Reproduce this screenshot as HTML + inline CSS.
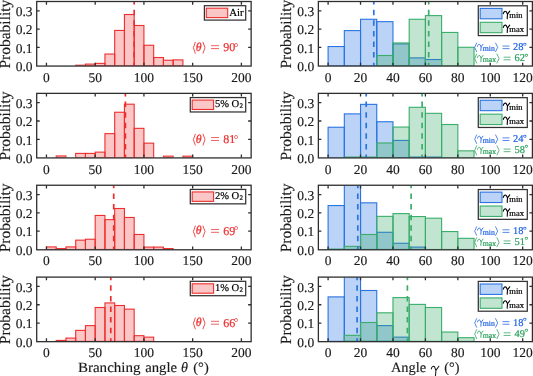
<!DOCTYPE html><html><head><meta charset="utf-8"><style>html,body{margin:0;padding:0;background:#fff;}svg{display:block;will-change:transform;}text{font-family:"Liberation Serif",serif;text-rendering:geometricPrecision;stroke-width:0.2px;}text:not([fill]){fill:#1a1a1a;stroke:#1a1a1a;stroke-width:0.15px;}</style></head><body>
<svg width="533" height="376" viewBox="0 0 533 376">
<rect width="533" height="376" fill="#fff"/>
<defs><clipPath id="cl0"><rect x="36.7" y="1.7" width="214.44" height="64.05"/></clipPath><clipPath id="cr0"><rect x="318.37" y="1.7" width="214.06" height="64.05"/></clipPath></defs>
<g clip-path="url(#cl0)">
<g fill="rgba(238,46,46,0.27)" stroke="#ee2e2e" stroke-width="1.1"><rect x="75.69" y="65.2" width="9.75" height="0.55"/><rect x="85.44" y="64.1" width="9.75" height="1.65"/><rect x="95.19" y="63.37" width="9.75" height="2.38"/><rect x="104.94" y="54.04" width="9.75" height="11.71"/><rect x="114.68" y="30.43" width="9.75" height="35.32"/><rect x="124.43" y="14.51" width="9.75" height="51.24"/><rect x="134.18" y="25.49" width="9.75" height="40.26"/><rect x="143.93" y="45.25" width="9.75" height="20.5"/><rect x="153.67" y="57.52" width="9.75" height="8.23"/><rect x="163.42" y="60.26" width="9.75" height="5.49"/><rect x="173.17" y="59.89" width="9.75" height="5.86"/></g>
<line x1="134.18" y1="1.7" x2="134.18" y2="65.75" stroke="#ee2e2e" stroke-width="1.7" stroke-dasharray="5.5 5.1" stroke-dashoffset="2.6"/>
</g>
<path d="M46.45 65.75v-3.0M46.45 1.7v3.0M95.19 65.75v-3.0M95.19 1.7v3.0M143.93 65.75v-3.0M143.93 1.7v3.0M192.66 65.75v-3.0M192.66 1.7v3.0M241.4 65.75v-3.0M241.4 1.7v3.0M36.7 47.45h3.0M251.15 47.45h-3.0M36.7 29.15h3.0M251.15 29.15h-3.0M36.7 10.85h3.0M251.15 10.85h-3.0" stroke="#2e2e2e" stroke-width="1.3" fill="none"/><rect x="36.7" y="1.5" width="214.44" height="64.55" fill="none" stroke="#2e2e2e" stroke-width="1.3"/><g font-size="13.5" text-anchor="middle"><text x="46.45" y="81.65">0</text><text x="95.19" y="81.65">50</text><text x="143.93" y="81.65">100</text><text x="192.66" y="81.65">150</text><text x="241.4" y="81.65">200</text></g><g font-size="13.5" text-anchor="end"><text x="32.5" y="71.05">0.0</text><text x="32.5" y="52.75">0.1</text><text x="32.5" y="34.45">0.2</text><text x="32.5" y="16.15">0.3</text></g>
<text transform="translate(9.9 34.12) rotate(-90)" font-size="15.5" text-anchor="middle">Probability</text>
<rect x="204.4" y="5.7" width="41.3" height="14.4" fill="#fff" stroke="#333" stroke-width="1.25"/>
<rect x="206.3" y="8.2" width="21.4" height="9.4" fill="rgba(238,46,46,0.27)" stroke="#ee2e2e" stroke-width="1.1"/>
<text x="229.3" y="15.9" font-size="10.8" fill="#000" stroke="#000" stroke-width="0.1">Air</text>
<path d="M195.4 41.9L193.4 47.75L195.4 53.6M202.9 41.9L205 47.75L202.9 53.6" stroke="#ee2e2e" stroke-width="0.85" fill="none"/>
<path d="M211 45.7H219M211 48.6H219" stroke="#ee2e2e" stroke-width="0.75" fill="none"/>
<text x="198.6" y="50.7" font-size="12" fill="#ee2e2e" stroke="#ee2e2e" font-style="italic" text-anchor="middle">θ</text>
<text x="223.3" y="50.9" font-size="12" fill="#ee2e2e" stroke="#ee2e2e" stroke-width="0.1">90</text>
<text x="233.7" y="50.7" font-size="11.5" fill="#ee2e2e">°</text>
<g clip-path="url(#cr0)">
<g fill="rgba(30,110,225,0.3)" stroke="#2a74e0" stroke-width="1.1"><rect x="328.1" y="46.53" width="16.22" height="19.22"/><rect x="344.32" y="30.61" width="16.22" height="35.14"/><rect x="360.53" y="19.27" width="16.22" height="46.48"/><rect x="376.75" y="21.65" width="16.22" height="44.1"/><rect x="392.97" y="43.88" width="16.22" height="21.87"/><rect x="409.19" y="57.88" width="16.22" height="7.87"/><rect x="425.4" y="59.53" width="16.22" height="6.22"/></g>
<g fill="rgba(50,170,100,0.3)" stroke="#3aad6a" stroke-width="1.1"><rect x="376.75" y="55.5" width="16.22" height="10.25"/><rect x="392.97" y="42.97" width="16.22" height="22.78"/><rect x="409.19" y="19.27" width="16.22" height="46.48"/><rect x="425.4" y="15.61" width="16.22" height="50.14"/><rect x="441.62" y="32.44" width="16.22" height="33.31"/><rect x="457.84" y="47.27" width="16.22" height="18.48"/></g>
<line x1="373.8" y1="1.7" x2="373.8" y2="65.75" stroke="#2a74e0" stroke-width="1.7" stroke-dasharray="5.5 5.1" stroke-dashoffset="2.6"/>
<line x1="428.7" y1="1.7" x2="428.7" y2="65.75" stroke="#3aad6a" stroke-width="1.7" stroke-dasharray="5.5 5.1" stroke-dashoffset="2.6"/>
</g>
<path d="M328.1 65.75v-3.0M328.1 1.7v3.0M360.53 65.75v-3.0M360.53 1.7v3.0M392.97 65.75v-3.0M392.97 1.7v3.0M425.4 65.75v-3.0M425.4 1.7v3.0M457.84 65.75v-3.0M457.84 1.7v3.0M490.27 65.75v-3.0M490.27 1.7v3.0M522.7 65.75v-3.0M522.7 1.7v3.0M318.37 47.45h3.0M532.43 47.45h-3.0M318.37 29.15h3.0M532.43 29.15h-3.0M318.37 10.85h3.0M532.43 10.85h-3.0" stroke="#2e2e2e" stroke-width="1.3" fill="none"/><rect x="318.37" y="1.5" width="214.06" height="64.55" fill="none" stroke="#2e2e2e" stroke-width="1.3"/><g font-size="13.5" text-anchor="middle"><text x="328.1" y="81.65">0</text><text x="360.53" y="81.65">20</text><text x="392.97" y="81.65">40</text><text x="425.4" y="81.65">60</text><text x="457.84" y="81.65">80</text><text x="490.27" y="81.65">100</text><text x="522.7" y="81.65">120</text></g><g font-size="13.5" text-anchor="end"><text x="314.17" y="71.05">0.0</text><text x="314.17" y="52.75">0.1</text><text x="314.17" y="34.45">0.2</text><text x="314.17" y="16.15">0.3</text></g>
<text transform="translate(290.7 34.12) rotate(-90)" font-size="15.5" text-anchor="middle">Probability</text>
<rect x="478.3" y="5.8" width="49" height="29.8" fill="#fff" stroke="#333" stroke-width="1.25"/>
<rect x="480.2" y="8.4" width="21.8" height="10.4" fill="rgba(30,110,225,0.3)" stroke="#2a74e0" stroke-width="1.1"/>
<rect x="480.2" y="22.3" width="21.8" height="10.4" fill="rgba(50,170,100,0.3)" stroke="#3aad6a" stroke-width="1.1"/>
<path d="M503.3 13.6C503.7 11.3 505.5 10.8 506.3 11.8L507.5 14.2M509.7 11.2L507.5 14.2L507.2 18.6" stroke="#000" stroke-width="1.1" fill="none" stroke-linecap="round" stroke-linejoin="round"/>
<path d="M503.3 27.5C503.7 25.2 505.5 24.7 506.3 25.7L507.5 28.1M509.7 25.1L507.5 28.1L507.2 32.5" stroke="#000" stroke-width="1.1" fill="none" stroke-linecap="round" stroke-linejoin="round"/>
<text x="509.3" y="18" font-size="8.5" fill="#000" stroke="#000">min</text>
<text x="509.3" y="32" font-size="8.5" fill="#000" stroke="#000">max</text>
<path d="M476.8 42.7L474.7 47.35L476.8 52M495.4 42.7L497.7 47.35L495.4 52" stroke="#1e62e2" stroke-width="0.75" fill="none"/>
<path d="M502.5 46.05H509.5M502.5 48.65H509.5" stroke="#1e62e2" stroke-width="0.75" fill="none"/>
<path d="M477.5 46.31C477.84 44.34 479.39 43.91 480.08 44.77L481.11 46.83M483 44.25L481.11 46.83L480.85 50.61" stroke="#1e62e2" stroke-width="0.85" fill="none" stroke-linecap="round" stroke-linejoin="round"/>
<text x="482.7" y="50.85" font-size="7.8" fill="#1e62e2" stroke="#1e62e2">min</text>
<text x="513.1" y="50.4" font-size="10.4" fill="#1e62e2" stroke="#1e62e2">28</text>
<text x="522.9" y="48.8" font-size="9.2" fill="#1e62e2" stroke="#1e62e2">°</text>
<path d="M476.8 53.6L474.7 58.5L476.8 63.4M496.8 53.6L499.1 58.5L496.8 63.4" stroke="#28a05a" stroke-width="0.75" fill="none"/>
<path d="M503.6 57.2H510.6M503.6 59.8H510.6" stroke="#28a05a" stroke-width="0.75" fill="none"/>
<path d="M477.5 57.46C477.84 55.49 479.39 55.06 480.08 55.92L481.11 57.98M483 55.4L481.11 57.98L480.85 61.76" stroke="#28a05a" stroke-width="0.85" fill="none" stroke-linecap="round" stroke-linejoin="round"/>
<text x="482.7" y="62" font-size="7.8" fill="#28a05a" stroke="#28a05a">max</text>
<text x="514.6" y="61.1" font-size="10.4" fill="#28a05a" stroke="#28a05a">62</text>
<text x="524.4" y="59.5" font-size="9.2" fill="#28a05a" stroke="#28a05a">°</text>
<defs><clipPath id="cl1"><rect x="36.7" y="93.57" width="214.44" height="64.05"/></clipPath><clipPath id="cr1"><rect x="318.37" y="93.57" width="214.06" height="64.05"/></clipPath></defs>
<g clip-path="url(#cl1)">
<g fill="rgba(238,46,46,0.27)" stroke="#ee2e2e" stroke-width="1.1"><rect x="56.2" y="155.97" width="9.75" height="1.65"/><rect x="75.69" y="153.41" width="9.75" height="4.21"/><rect x="85.44" y="153.41" width="9.75" height="4.21"/><rect x="95.19" y="152.13" width="9.75" height="5.49"/><rect x="104.94" y="133.65" width="9.75" height="23.97"/><rect x="114.68" y="112.24" width="9.75" height="45.38"/><rect x="124.43" y="104.18" width="9.75" height="53.44"/><rect x="134.18" y="128.34" width="9.75" height="29.28"/><rect x="143.93" y="143.16" width="9.75" height="14.46"/><rect x="163.42" y="156.16" width="9.75" height="1.46"/><rect x="182.92" y="156.16" width="9.75" height="1.46"/></g>
<line x1="125.4" y1="93.57" x2="125.4" y2="157.62" stroke="#ee2e2e" stroke-width="1.7" stroke-dasharray="5.5 5.1" stroke-dashoffset="2.6"/>
</g>
<path d="M46.45 157.62v-3.0M46.45 93.57v3.0M95.19 157.62v-3.0M95.19 93.57v3.0M143.93 157.62v-3.0M143.93 93.57v3.0M192.66 157.62v-3.0M192.66 93.57v3.0M241.4 157.62v-3.0M241.4 93.57v3.0M36.7 139.32h3.0M251.15 139.32h-3.0M36.7 121.02h3.0M251.15 121.02h-3.0M36.7 102.72h3.0M251.15 102.72h-3.0" stroke="#2e2e2e" stroke-width="1.3" fill="none"/><rect x="36.7" y="93.37" width="214.44" height="64.55" fill="none" stroke="#2e2e2e" stroke-width="1.3"/><g font-size="13.5" text-anchor="middle"><text x="46.45" y="173.52">0</text><text x="95.19" y="173.52">50</text><text x="143.93" y="173.52">100</text><text x="192.66" y="173.52">150</text><text x="241.4" y="173.52">200</text></g><g font-size="13.5" text-anchor="end"><text x="32.5" y="162.92">0.0</text><text x="32.5" y="144.62">0.1</text><text x="32.5" y="126.32">0.2</text><text x="32.5" y="108.02">0.3</text></g>
<text transform="translate(9.9 126) rotate(-90)" font-size="15.5" text-anchor="middle">Probability</text>
<rect x="190.3" y="97.57" width="55.4" height="14.4" fill="#fff" stroke="#333" stroke-width="1.25"/>
<rect x="192.2" y="100.07" width="21.4" height="9.4" fill="rgba(238,46,46,0.27)" stroke="#ee2e2e" stroke-width="1.1"/>
<text x="215" y="107.17" font-size="10.5" fill="#000" stroke="#000" stroke-width="0.15">5%</text>
<text x="231.6" y="107.17" font-size="10.6" fill="#000" stroke="#000" stroke-width="0.15">O</text>
<text x="239.5" y="108.47" font-size="7" fill="#000" stroke="#000" stroke-width="0.15">2</text>
<path d="M195.4 133.77L193.4 139.62L195.4 145.47M202.9 133.77L205 139.62L202.9 145.47" stroke="#ee2e2e" stroke-width="0.85" fill="none"/>
<path d="M211 137.57H219M211 140.47H219" stroke="#ee2e2e" stroke-width="0.75" fill="none"/>
<text x="198.6" y="142.57" font-size="12" fill="#ee2e2e" stroke="#ee2e2e" font-style="italic" text-anchor="middle">θ</text>
<text x="223.3" y="142.77" font-size="12" fill="#ee2e2e" stroke="#ee2e2e" stroke-width="0.1">81</text>
<text x="233.7" y="142.57" font-size="11.5" fill="#ee2e2e">°</text>
<g clip-path="url(#cr1)">
<g fill="rgba(30,110,225,0.3)" stroke="#2a74e0" stroke-width="1.1"><rect x="328.1" y="127.24" width="16.22" height="30.38"/><rect x="344.32" y="113.88" width="16.22" height="43.74"/><rect x="360.53" y="104.37" width="16.22" height="53.25"/><rect x="376.75" y="121.75" width="16.22" height="35.87"/><rect x="392.97" y="140.42" width="16.22" height="17.2"/><rect x="409.19" y="157.07" width="16.22" height="0.55"/><rect x="425.4" y="157.07" width="16.22" height="0.55"/></g>
<g fill="rgba(50,170,100,0.3)" stroke="#3aad6a" stroke-width="1.1"><rect x="344.32" y="157.07" width="16.22" height="0.55"/><rect x="360.53" y="157.07" width="16.22" height="0.55"/><rect x="376.75" y="142.98" width="16.22" height="14.64"/><rect x="392.97" y="127.06" width="16.22" height="30.56"/><rect x="409.19" y="107.3" width="16.22" height="50.33"/><rect x="425.4" y="113.33" width="16.22" height="44.29"/><rect x="441.62" y="124.5" width="16.22" height="33.12"/><rect x="457.84" y="150.85" width="16.22" height="6.77"/></g>
<line x1="366.2" y1="93.57" x2="366.2" y2="157.62" stroke="#2a74e0" stroke-width="1.7" stroke-dasharray="5.5 5.1" stroke-dashoffset="2.6"/>
<line x1="422.1" y1="93.57" x2="422.1" y2="157.62" stroke="#3aad6a" stroke-width="1.7" stroke-dasharray="5.5 5.1" stroke-dashoffset="2.6"/>
</g>
<path d="M328.1 157.62v-3.0M328.1 93.57v3.0M360.53 157.62v-3.0M360.53 93.57v3.0M392.97 157.62v-3.0M392.97 93.57v3.0M425.4 157.62v-3.0M425.4 93.57v3.0M457.84 157.62v-3.0M457.84 93.57v3.0M490.27 157.62v-3.0M490.27 93.57v3.0M522.7 157.62v-3.0M522.7 93.57v3.0M318.37 139.32h3.0M532.43 139.32h-3.0M318.37 121.02h3.0M532.43 121.02h-3.0M318.37 102.72h3.0M532.43 102.72h-3.0" stroke="#2e2e2e" stroke-width="1.3" fill="none"/><rect x="318.37" y="93.37" width="214.06" height="64.55" fill="none" stroke="#2e2e2e" stroke-width="1.3"/><g font-size="13.5" text-anchor="middle"><text x="328.1" y="173.52">0</text><text x="360.53" y="173.52">20</text><text x="392.97" y="173.52">40</text><text x="425.4" y="173.52">60</text><text x="457.84" y="173.52">80</text><text x="490.27" y="173.52">100</text><text x="522.7" y="173.52">120</text></g><g font-size="13.5" text-anchor="end"><text x="314.17" y="162.92">0.0</text><text x="314.17" y="144.62">0.1</text><text x="314.17" y="126.32">0.2</text><text x="314.17" y="108.02">0.3</text></g>
<text transform="translate(290.7 126) rotate(-90)" font-size="15.5" text-anchor="middle">Probability</text>
<rect x="478.3" y="97.67" width="49" height="29.8" fill="#fff" stroke="#333" stroke-width="1.25"/>
<rect x="480.2" y="100.27" width="21.8" height="10.4" fill="rgba(30,110,225,0.3)" stroke="#2a74e0" stroke-width="1.1"/>
<rect x="480.2" y="114.17" width="21.8" height="10.4" fill="rgba(50,170,100,0.3)" stroke="#3aad6a" stroke-width="1.1"/>
<path d="M503.3 105.47C503.7 103.17 505.5 102.67 506.3 103.67L507.5 106.07M509.7 103.07L507.5 106.07L507.2 110.47" stroke="#000" stroke-width="1.1" fill="none" stroke-linecap="round" stroke-linejoin="round"/>
<path d="M503.3 119.37C503.7 117.07 505.5 116.57 506.3 117.57L507.5 119.97M509.7 116.97L507.5 119.97L507.2 124.37" stroke="#000" stroke-width="1.1" fill="none" stroke-linecap="round" stroke-linejoin="round"/>
<text x="509.3" y="109.87" font-size="8.5" fill="#000" stroke="#000">min</text>
<text x="509.3" y="123.87" font-size="8.5" fill="#000" stroke="#000">max</text>
<path d="M476.8 134.57L474.7 139.22L476.8 143.87M495.4 134.57L497.7 139.22L495.4 143.87" stroke="#1e62e2" stroke-width="0.75" fill="none"/>
<path d="M502.5 137.92H509.5M502.5 140.52H509.5" stroke="#1e62e2" stroke-width="0.75" fill="none"/>
<path d="M477.5 138.18C477.84 136.21 479.39 135.78 480.08 136.64L481.11 138.7M483 136.12L481.11 138.7L480.85 142.48" stroke="#1e62e2" stroke-width="0.85" fill="none" stroke-linecap="round" stroke-linejoin="round"/>
<text x="482.7" y="142.72" font-size="7.8" fill="#1e62e2" stroke="#1e62e2">min</text>
<text x="513.1" y="142.27" font-size="10.4" fill="#1e62e2" stroke="#1e62e2">24</text>
<text x="522.9" y="140.67" font-size="9.2" fill="#1e62e2" stroke="#1e62e2">°</text>
<path d="M476.8 145.47L474.7 150.37L476.8 155.27M496.8 145.47L499.1 150.37L496.8 155.27" stroke="#28a05a" stroke-width="0.75" fill="none"/>
<path d="M503.6 149.07H510.6M503.6 151.67H510.6" stroke="#28a05a" stroke-width="0.75" fill="none"/>
<path d="M477.5 149.33C477.84 147.36 479.39 146.93 480.08 147.79L481.11 149.85M483 147.27L481.11 149.85L480.85 153.63" stroke="#28a05a" stroke-width="0.85" fill="none" stroke-linecap="round" stroke-linejoin="round"/>
<text x="482.7" y="153.87" font-size="7.8" fill="#28a05a" stroke="#28a05a">max</text>
<text x="514.6" y="152.97" font-size="10.4" fill="#28a05a" stroke="#28a05a">58</text>
<text x="524.4" y="151.37" font-size="9.2" fill="#28a05a" stroke="#28a05a">°</text>
<defs><clipPath id="cl2"><rect x="36.7" y="185.44" width="214.44" height="64.05"/></clipPath><clipPath id="cr2"><rect x="318.37" y="185.44" width="214.06" height="64.05"/></clipPath></defs>
<g clip-path="url(#cl2)">
<g fill="rgba(238,46,46,0.27)" stroke="#ee2e2e" stroke-width="1.1"><rect x="46.45" y="246.93" width="9.75" height="2.56"/><rect x="56.2" y="248.58" width="9.75" height="0.91"/><rect x="65.95" y="246.93" width="9.75" height="2.56"/><rect x="75.69" y="240.16" width="9.75" height="9.33"/><rect x="85.44" y="239.24" width="9.75" height="10.25"/><rect x="95.19" y="215.45" width="9.75" height="34.04"/><rect x="104.94" y="219.66" width="9.75" height="29.83"/><rect x="114.68" y="208.5" width="9.75" height="40.99"/><rect x="124.43" y="217.47" width="9.75" height="32.03"/><rect x="134.18" y="234.48" width="9.75" height="15.01"/><rect x="143.93" y="247.11" width="9.75" height="2.38"/><rect x="153.67" y="247.11" width="9.75" height="2.38"/><rect x="163.42" y="248.58" width="9.75" height="0.91"/></g>
<line x1="113.71" y1="185.44" x2="113.71" y2="249.49" stroke="#ee2e2e" stroke-width="1.7" stroke-dasharray="5.5 5.1" stroke-dashoffset="2.6"/>
</g>
<path d="M46.45 249.49v-3.0M46.45 185.44v3.0M95.19 249.49v-3.0M95.19 185.44v3.0M143.93 249.49v-3.0M143.93 185.44v3.0M192.66 249.49v-3.0M192.66 185.44v3.0M241.4 249.49v-3.0M241.4 185.44v3.0M36.7 231.19h3.0M251.15 231.19h-3.0M36.7 212.89h3.0M251.15 212.89h-3.0M36.7 194.59h3.0M251.15 194.59h-3.0" stroke="#2e2e2e" stroke-width="1.3" fill="none"/><rect x="36.7" y="185.24" width="214.44" height="64.55" fill="none" stroke="#2e2e2e" stroke-width="1.3"/><g font-size="13.5" text-anchor="middle"><text x="46.45" y="265.39">0</text><text x="95.19" y="265.39">50</text><text x="143.93" y="265.39">100</text><text x="192.66" y="265.39">150</text><text x="241.4" y="265.39">200</text></g><g font-size="13.5" text-anchor="end"><text x="32.5" y="254.79">0.0</text><text x="32.5" y="236.49">0.1</text><text x="32.5" y="218.19">0.2</text><text x="32.5" y="199.89">0.3</text></g>
<text transform="translate(9.9 217.87) rotate(-90)" font-size="15.5" text-anchor="middle">Probability</text>
<rect x="190.3" y="189.44" width="55.4" height="14.4" fill="#fff" stroke="#333" stroke-width="1.25"/>
<rect x="192.2" y="191.94" width="21.4" height="9.4" fill="rgba(238,46,46,0.27)" stroke="#ee2e2e" stroke-width="1.1"/>
<text x="215" y="199.04" font-size="10.5" fill="#000" stroke="#000" stroke-width="0.15">2%</text>
<text x="231.6" y="199.04" font-size="10.6" fill="#000" stroke="#000" stroke-width="0.15">O</text>
<text x="239.5" y="200.34" font-size="7" fill="#000" stroke="#000" stroke-width="0.15">2</text>
<path d="M195.4 225.64L193.4 231.49L195.4 237.34M202.9 225.64L205 231.49L202.9 237.34" stroke="#ee2e2e" stroke-width="0.85" fill="none"/>
<path d="M211 229.44H219M211 232.34H219" stroke="#ee2e2e" stroke-width="0.75" fill="none"/>
<text x="198.6" y="234.44" font-size="12" fill="#ee2e2e" stroke="#ee2e2e" font-style="italic" text-anchor="middle">θ</text>
<text x="223.3" y="234.64" font-size="12" fill="#ee2e2e" stroke="#ee2e2e" stroke-width="0.1">69</text>
<text x="233.7" y="234.44" font-size="11.5" fill="#ee2e2e">°</text>
<g clip-path="url(#cr2)">
<g fill="rgba(30,110,225,0.3)" stroke="#2a74e0" stroke-width="1.1"><rect x="328.1" y="205.57" width="16.22" height="43.92"/><rect x="344.32" y="176.29" width="16.22" height="73.2"/><rect x="360.53" y="202.83" width="16.22" height="46.66"/><rect x="376.75" y="232.29" width="16.22" height="17.2"/><rect x="392.97" y="243.27" width="16.22" height="6.22"/><rect x="409.19" y="247.11" width="16.22" height="2.38"/></g>
<g fill="rgba(50,170,100,0.3)" stroke="#3aad6a" stroke-width="1.1"><rect x="328.1" y="249.12" width="16.22" height="0.37"/><rect x="344.32" y="246.38" width="16.22" height="3.11"/><rect x="360.53" y="234.48" width="16.22" height="15.01"/><rect x="376.75" y="216.37" width="16.22" height="33.12"/><rect x="392.97" y="213.62" width="16.22" height="35.87"/><rect x="409.19" y="216.55" width="16.22" height="32.94"/><rect x="425.4" y="218.2" width="16.22" height="31.29"/><rect x="441.62" y="231.56" width="16.22" height="17.93"/><rect x="457.84" y="238.33" width="16.22" height="11.16"/></g>
<line x1="357.8" y1="185.44" x2="357.8" y2="249.49" stroke="#2a74e0" stroke-width="1.7" stroke-dasharray="5.5 5.1" stroke-dashoffset="2.6"/>
<line x1="411.1" y1="185.44" x2="411.1" y2="249.49" stroke="#3aad6a" stroke-width="1.7" stroke-dasharray="5.5 5.1" stroke-dashoffset="2.6"/>
</g>
<path d="M328.1 249.49v-3.0M328.1 185.44v3.0M360.53 249.49v-3.0M360.53 185.44v3.0M392.97 249.49v-3.0M392.97 185.44v3.0M425.4 249.49v-3.0M425.4 185.44v3.0M457.84 249.49v-3.0M457.84 185.44v3.0M490.27 249.49v-3.0M490.27 185.44v3.0M522.7 249.49v-3.0M522.7 185.44v3.0M318.37 231.19h3.0M532.43 231.19h-3.0M318.37 212.89h3.0M532.43 212.89h-3.0M318.37 194.59h3.0M532.43 194.59h-3.0" stroke="#2e2e2e" stroke-width="1.3" fill="none"/><rect x="318.37" y="185.24" width="214.06" height="64.55" fill="none" stroke="#2e2e2e" stroke-width="1.3"/><g font-size="13.5" text-anchor="middle"><text x="328.1" y="265.39">0</text><text x="360.53" y="265.39">20</text><text x="392.97" y="265.39">40</text><text x="425.4" y="265.39">60</text><text x="457.84" y="265.39">80</text><text x="490.27" y="265.39">100</text><text x="522.7" y="265.39">120</text></g><g font-size="13.5" text-anchor="end"><text x="314.17" y="254.79">0.0</text><text x="314.17" y="236.49">0.1</text><text x="314.17" y="218.19">0.2</text><text x="314.17" y="199.89">0.3</text></g>
<text transform="translate(290.7 217.87) rotate(-90)" font-size="15.5" text-anchor="middle">Probability</text>
<rect x="478.3" y="189.54" width="49" height="29.8" fill="#fff" stroke="#333" stroke-width="1.25"/>
<rect x="480.2" y="192.14" width="21.8" height="10.4" fill="rgba(30,110,225,0.3)" stroke="#2a74e0" stroke-width="1.1"/>
<rect x="480.2" y="206.04" width="21.8" height="10.4" fill="rgba(50,170,100,0.3)" stroke="#3aad6a" stroke-width="1.1"/>
<path d="M503.3 197.34C503.7 195.04 505.5 194.54 506.3 195.54L507.5 197.94M509.7 194.94L507.5 197.94L507.2 202.34" stroke="#000" stroke-width="1.1" fill="none" stroke-linecap="round" stroke-linejoin="round"/>
<path d="M503.3 211.24C503.7 208.94 505.5 208.44 506.3 209.44L507.5 211.84M509.7 208.84L507.5 211.84L507.2 216.24" stroke="#000" stroke-width="1.1" fill="none" stroke-linecap="round" stroke-linejoin="round"/>
<text x="509.3" y="201.74" font-size="8.5" fill="#000" stroke="#000">min</text>
<text x="509.3" y="215.74" font-size="8.5" fill="#000" stroke="#000">max</text>
<path d="M476.8 226.44L474.7 231.09L476.8 235.74M495.4 226.44L497.7 231.09L495.4 235.74" stroke="#1e62e2" stroke-width="0.75" fill="none"/>
<path d="M502.5 229.79H509.5M502.5 232.39H509.5" stroke="#1e62e2" stroke-width="0.75" fill="none"/>
<path d="M477.5 230.05C477.84 228.08 479.39 227.65 480.08 228.51L481.11 230.57M483 227.99L481.11 230.57L480.85 234.35" stroke="#1e62e2" stroke-width="0.85" fill="none" stroke-linecap="round" stroke-linejoin="round"/>
<text x="482.7" y="234.59" font-size="7.8" fill="#1e62e2" stroke="#1e62e2">min</text>
<text x="513.1" y="234.14" font-size="10.4" fill="#1e62e2" stroke="#1e62e2">18</text>
<text x="522.9" y="232.54" font-size="9.2" fill="#1e62e2" stroke="#1e62e2">°</text>
<path d="M476.8 237.34L474.7 242.24L476.8 247.14M496.8 237.34L499.1 242.24L496.8 247.14" stroke="#28a05a" stroke-width="0.75" fill="none"/>
<path d="M503.6 240.94H510.6M503.6 243.54H510.6" stroke="#28a05a" stroke-width="0.75" fill="none"/>
<path d="M477.5 241.2C477.84 239.23 479.39 238.8 480.08 239.66L481.11 241.72M483 239.14L481.11 241.72L480.85 245.5" stroke="#28a05a" stroke-width="0.85" fill="none" stroke-linecap="round" stroke-linejoin="round"/>
<text x="482.7" y="245.74" font-size="7.8" fill="#28a05a" stroke="#28a05a">max</text>
<text x="514.6" y="244.84" font-size="10.4" fill="#28a05a" stroke="#28a05a">51</text>
<text x="524.4" y="243.24" font-size="9.2" fill="#28a05a" stroke="#28a05a">°</text>
<defs><clipPath id="cl3"><rect x="36.7" y="277.31" width="214.44" height="64.05"/></clipPath><clipPath id="cr3"><rect x="318.37" y="277.31" width="214.06" height="64.05"/></clipPath></defs>
<g clip-path="url(#cl3)">
<g fill="rgba(238,46,46,0.27)" stroke="#ee2e2e" stroke-width="1.1"><rect x="56.2" y="340.44" width="9.75" height="0.92"/><rect x="65.95" y="338.07" width="9.75" height="3.29"/><rect x="75.69" y="330.38" width="9.75" height="10.98"/><rect x="85.44" y="325.62" width="9.75" height="15.74"/><rect x="95.19" y="307.5" width="9.75" height="33.86"/><rect x="104.94" y="302.93" width="9.75" height="38.43"/><rect x="114.68" y="305.49" width="9.75" height="35.87"/><rect x="124.43" y="309.15" width="9.75" height="32.21"/><rect x="134.18" y="335.69" width="9.75" height="5.67"/><rect x="143.93" y="337.15" width="9.75" height="4.21"/></g>
<line x1="110.78" y1="277.31" x2="110.78" y2="341.36" stroke="#ee2e2e" stroke-width="1.7" stroke-dasharray="5.5 5.1" stroke-dashoffset="2.6"/>
</g>
<path d="M46.45 341.36v-3.0M46.45 277.31v3.0M95.19 341.36v-3.0M95.19 277.31v3.0M143.93 341.36v-3.0M143.93 277.31v3.0M192.66 341.36v-3.0M192.66 277.31v3.0M241.4 341.36v-3.0M241.4 277.31v3.0M36.7 323.06h3.0M251.15 323.06h-3.0M36.7 304.76h3.0M251.15 304.76h-3.0M36.7 286.46h3.0M251.15 286.46h-3.0" stroke="#2e2e2e" stroke-width="1.3" fill="none"/><rect x="36.7" y="277.11" width="214.44" height="64.55" fill="none" stroke="#2e2e2e" stroke-width="1.3"/><g font-size="13.5" text-anchor="middle"><text x="46.45" y="357.26">0</text><text x="95.19" y="357.26">50</text><text x="143.93" y="357.26">100</text><text x="192.66" y="357.26">150</text><text x="241.4" y="357.26">200</text></g><g font-size="13.5" text-anchor="end"><text x="32.5" y="346.66">0.0</text><text x="32.5" y="328.36">0.1</text><text x="32.5" y="310.06">0.2</text><text x="32.5" y="291.76">0.3</text></g>
<text transform="translate(9.9 309.74) rotate(-90)" font-size="15.5" text-anchor="middle">Probability</text>
<rect x="190.3" y="281.31" width="55.4" height="14.4" fill="#fff" stroke="#333" stroke-width="1.25"/>
<rect x="192.2" y="283.81" width="21.4" height="9.4" fill="rgba(238,46,46,0.27)" stroke="#ee2e2e" stroke-width="1.1"/>
<text x="215" y="290.91" font-size="10.5" fill="#000" stroke="#000" stroke-width="0.15">1%</text>
<text x="231.6" y="290.91" font-size="10.6" fill="#000" stroke="#000" stroke-width="0.15">O</text>
<text x="239.5" y="292.21" font-size="7" fill="#000" stroke="#000" stroke-width="0.15">2</text>
<path d="M195.4 317.51L193.4 323.36L195.4 329.21M202.9 317.51L205 323.36L202.9 329.21" stroke="#ee2e2e" stroke-width="0.85" fill="none"/>
<path d="M211 321.31H219M211 324.21H219" stroke="#ee2e2e" stroke-width="0.75" fill="none"/>
<text x="198.6" y="326.31" font-size="12" fill="#ee2e2e" stroke="#ee2e2e" font-style="italic" text-anchor="middle">θ</text>
<text x="223.3" y="326.51" font-size="12" fill="#ee2e2e" stroke="#ee2e2e" stroke-width="0.1">66</text>
<text x="233.7" y="326.31" font-size="11.5" fill="#ee2e2e">°</text>
<g clip-path="url(#cr3)">
<g fill="rgba(30,110,225,0.3)" stroke="#2a74e0" stroke-width="1.1"><rect x="328.1" y="296.89" width="16.22" height="44.47"/><rect x="344.32" y="268.16" width="16.22" height="73.2"/><rect x="360.53" y="290.49" width="16.22" height="50.87"/><rect x="376.75" y="325.62" width="16.22" height="15.74"/><rect x="392.97" y="337.15" width="16.22" height="4.21"/></g>
<g fill="rgba(50,170,100,0.3)" stroke="#3aad6a" stroke-width="1.1"><rect x="344.32" y="335.32" width="16.22" height="6.04"/><rect x="360.53" y="322.51" width="16.22" height="18.85"/><rect x="376.75" y="312.81" width="16.22" height="28.55"/><rect x="392.97" y="297.62" width="16.22" height="43.74"/><rect x="409.19" y="304.39" width="16.22" height="36.97"/><rect x="425.4" y="307.5" width="16.22" height="33.86"/><rect x="441.62" y="332.03" width="16.22" height="9.33"/><rect x="457.84" y="337.7" width="16.22" height="3.66"/></g>
<line x1="357.1" y1="277.31" x2="357.1" y2="341.36" stroke="#2a74e0" stroke-width="1.7" stroke-dasharray="5.5 5.1" stroke-dashoffset="2.6"/>
<line x1="407.4" y1="277.31" x2="407.4" y2="341.36" stroke="#3aad6a" stroke-width="1.7" stroke-dasharray="5.5 5.1" stroke-dashoffset="2.6"/>
</g>
<path d="M328.1 341.36v-3.0M328.1 277.31v3.0M360.53 341.36v-3.0M360.53 277.31v3.0M392.97 341.36v-3.0M392.97 277.31v3.0M425.4 341.36v-3.0M425.4 277.31v3.0M457.84 341.36v-3.0M457.84 277.31v3.0M490.27 341.36v-3.0M490.27 277.31v3.0M522.7 341.36v-3.0M522.7 277.31v3.0M318.37 323.06h3.0M532.43 323.06h-3.0M318.37 304.76h3.0M532.43 304.76h-3.0M318.37 286.46h3.0M532.43 286.46h-3.0" stroke="#2e2e2e" stroke-width="1.3" fill="none"/><rect x="318.37" y="277.11" width="214.06" height="64.55" fill="none" stroke="#2e2e2e" stroke-width="1.3"/><g font-size="13.5" text-anchor="middle"><text x="328.1" y="357.26">0</text><text x="360.53" y="357.26">20</text><text x="392.97" y="357.26">40</text><text x="425.4" y="357.26">60</text><text x="457.84" y="357.26">80</text><text x="490.27" y="357.26">100</text><text x="522.7" y="357.26">120</text></g><g font-size="13.5" text-anchor="end"><text x="314.17" y="346.66">0.0</text><text x="314.17" y="328.36">0.1</text><text x="314.17" y="310.06">0.2</text><text x="314.17" y="291.76">0.3</text></g>
<text transform="translate(290.7 309.74) rotate(-90)" font-size="15.5" text-anchor="middle">Probability</text>
<rect x="478.3" y="281.41" width="49" height="29.8" fill="#fff" stroke="#333" stroke-width="1.25"/>
<rect x="480.2" y="284.01" width="21.8" height="10.4" fill="rgba(30,110,225,0.3)" stroke="#2a74e0" stroke-width="1.1"/>
<rect x="480.2" y="297.91" width="21.8" height="10.4" fill="rgba(50,170,100,0.3)" stroke="#3aad6a" stroke-width="1.1"/>
<path d="M503.3 289.21C503.7 286.91 505.5 286.41 506.3 287.41L507.5 289.81M509.7 286.81L507.5 289.81L507.2 294.21" stroke="#000" stroke-width="1.1" fill="none" stroke-linecap="round" stroke-linejoin="round"/>
<path d="M503.3 303.11C503.7 300.81 505.5 300.31 506.3 301.31L507.5 303.71M509.7 300.71L507.5 303.71L507.2 308.11" stroke="#000" stroke-width="1.1" fill="none" stroke-linecap="round" stroke-linejoin="round"/>
<text x="509.3" y="293.61" font-size="8.5" fill="#000" stroke="#000">min</text>
<text x="509.3" y="307.61" font-size="8.5" fill="#000" stroke="#000">max</text>
<path d="M476.8 318.31L474.7 322.96L476.8 327.61M495.4 318.31L497.7 322.96L495.4 327.61" stroke="#1e62e2" stroke-width="0.75" fill="none"/>
<path d="M502.5 321.66H509.5M502.5 324.26H509.5" stroke="#1e62e2" stroke-width="0.75" fill="none"/>
<path d="M477.5 321.92C477.84 319.95 479.39 319.52 480.08 320.38L481.11 322.44M483 319.86L481.11 322.44L480.85 326.22" stroke="#1e62e2" stroke-width="0.85" fill="none" stroke-linecap="round" stroke-linejoin="round"/>
<text x="482.7" y="326.46" font-size="7.8" fill="#1e62e2" stroke="#1e62e2">min</text>
<text x="513.1" y="326.01" font-size="10.4" fill="#1e62e2" stroke="#1e62e2">18</text>
<text x="522.9" y="324.41" font-size="9.2" fill="#1e62e2" stroke="#1e62e2">°</text>
<path d="M476.8 329.21L474.7 334.11L476.8 339.01M496.8 329.21L499.1 334.11L496.8 339.01" stroke="#28a05a" stroke-width="0.75" fill="none"/>
<path d="M503.6 332.81H510.6M503.6 335.41H510.6" stroke="#28a05a" stroke-width="0.75" fill="none"/>
<path d="M477.5 333.07C477.84 331.1 479.39 330.67 480.08 331.53L481.11 333.59M483 331.01L481.11 333.59L480.85 337.37" stroke="#28a05a" stroke-width="0.85" fill="none" stroke-linecap="round" stroke-linejoin="round"/>
<text x="482.7" y="337.61" font-size="7.8" fill="#28a05a" stroke="#28a05a">max</text>
<text x="514.6" y="336.71" font-size="10.4" fill="#28a05a" stroke="#28a05a">49</text>
<text x="524.4" y="335.11" font-size="9.2" fill="#28a05a" stroke="#28a05a">°</text>
<text x="77.9" y="372.1" font-size="14.2" textLength="62.7" lengthAdjust="spacingAndGlyphs">Branching</text>
<text x="145.2" y="372.1" font-size="14.2" textLength="31.8" lengthAdjust="spacingAndGlyphs">angle</text>
<text x="184.6" y="372.1" font-size="14.2" font-style="italic" text-anchor="middle">θ</text>
<text x="193.3" y="372.1" font-size="14.2" textLength="15.4" lengthAdjust="spacingAndGlyphs">(°)</text>
<text x="390.9" y="372.1" font-size="14.2" textLength="35.2" lengthAdjust="spacingAndGlyphs">Angle</text>
<path d="M431.3 368.9C431.6 366.8 433.3 365.8 434.5 366.7L435.9 370.4M438.9 366.2L435.9 370.4L435.4 376.6" stroke="#1a1a1a" stroke-width="1.05" fill="none" stroke-linecap="round" stroke-linejoin="round"/>
<text x="444.3" y="372.1" font-size="14.2" textLength="15.2" lengthAdjust="spacingAndGlyphs">(°)</text>
</svg></body></html>
